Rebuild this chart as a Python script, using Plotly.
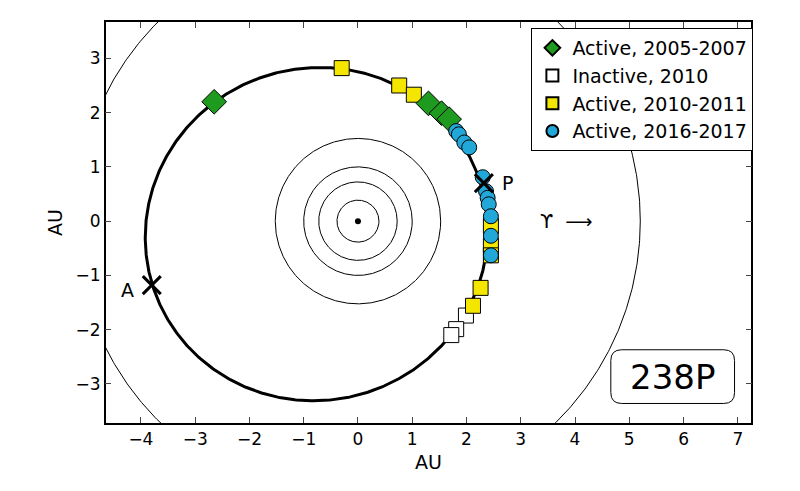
import numpy as np
import plotly.graph_objects as go

planet_radii = [0.387, 0.723, 1.0, 1.524, 5.203]
orbit_a, orbit_e, orbit_peri_deg = 3.165, 0.253, 17.4

green_x = [-2.65, 1.30, 1.54, 1.68]
green_y = [2.20, 2.17, 1.99, 1.88]
white_x = [1.99, 1.81, 1.72]
white_y = [-1.74, -1.99, -2.10]
yellow_x = [-0.30, 0.76, 1.03, 2.45, 2.45, 2.45, 2.26, 2.12]
yellow_y = [2.82, 2.50, 2.33, -0.09, -0.45, -0.63, -1.23, -1.56]
blue_x = [1.81, 1.86, 1.96, 2.05, 2.30, 2.36, 2.39, 2.41, 2.45, 2.45, 2.45]
blue_y = [1.66, 1.60, 1.45, 1.36, 0.81, 0.55, 0.43, 0.31, 0.09, -0.27, -0.63]
peri_xy = (2.32, 0.70)
aph_xy = (-3.80, -1.18)

fig = go.Figure()
t = np.linspace(0, 2*np.pi, 721)
for r in planet_radii:
    fig.add_trace(go.Scatter(x=r*np.cos(t), y=r*np.sin(t), mode="lines",
                             line=dict(color="black", width=1), showlegend=False, hoverinfo="skip"))
w = np.radians(orbit_peri_deg)
rr = orbit_a*(1-orbit_e**2)/(1+orbit_e*np.cos(t-w))
fig.add_trace(go.Scatter(x=rr*np.cos(t), y=rr*np.sin(t), mode="lines",
                         line=dict(color="black", width=3), showlegend=False, hoverinfo="skip"))
fig.add_trace(go.Scatter(x=[0], y=[0], mode="markers", marker=dict(color="black", size=6), showlegend=False))

mk = dict(size=15, line=dict(color="black", width=1))
fig.add_trace(go.Scatter(x=white_x, y=white_y, mode="markers", name="Inactive, 2010", legendrank=2,
                         marker=dict(symbol="square", color="white", **mk)))
fig.add_trace(go.Scatter(x=yellow_x, y=yellow_y, mode="markers", name="Active, 2010-2011", legendrank=3,
                         marker=dict(symbol="square", color="#f5e600", **mk)))
fig.add_trace(go.Scatter(x=green_x, y=green_y, mode="markers", name="Active, 2005-2007", legendrank=1,
                         marker=dict(symbol="diamond", color="#1e9a1e", size=19, line=dict(color="black", width=1))))
fig.add_trace(go.Scatter(x=blue_x, y=blue_y, mode="markers", name="Active, 2016-2017", legendrank=4,
                         marker=dict(symbol="circle", color="#22a7d9", **mk)))
fig.add_trace(go.Scatter(x=[peri_xy[0], aph_xy[0]], y=[peri_xy[1], aph_xy[1]], mode="markers",
                         marker=dict(symbol="x-thin", size=18, line=dict(color="black", width=3)),
                         showlegend=False))

fig.add_annotation(x=peri_xy[0], y=peri_xy[1], text="P", xshift=24, showarrow=False, font=dict(size=19))
fig.add_annotation(x=aph_xy[0], y=aph_xy[1], text="A", xshift=-24, yshift=-5, showarrow=False, font=dict(size=19))
fig.add_annotation(x=3.85, y=0, text="ϒ  ⟶", showarrow=False, font=dict(size=19))
x0, x1, y0, y1, rc = 4.66, 6.94, -3.36, -2.37, 0.2
path = (f"M {x0+rc},{y0} L {x1-rc},{y0} Q {x1},{y0} {x1},{y0+rc} L {x1},{y1-rc} Q {x1},{y1} {x1-rc},{y1} "
        f"L {x0+rc},{y1} Q {x0},{y1} {x0},{y1-rc} L {x0},{y0+rc} Q {x0},{y0} {x0+rc},{y0} Z")
fig.add_shape(type="path", path=path, line=dict(color="black", width=1), fillcolor="white", layer="above")
fig.add_annotation(x=(x0+x1)/2, y=(y0+y1)/2, text="238P", showarrow=False, font=dict(size=34))

ax = dict(showgrid=False, zeroline=False, ticks="inside", mirror="allticks", showline=True,
          linecolor="black", linewidth=1.5, ticklen=6, tickfont=dict(size=17),
          title_font=dict(size=19), automargin=False, constrain="domain")
fig.update_layout(
    width=800, height=491, plot_bgcolor="white", paper_bgcolor="white",
    font=dict(family="DejaVu Sans", color="black"),
    margin=dict(l=91, r=50, t=14, b=76),
    xaxis=dict(range=[-4.65, 7.25], dtick=1, title=dict(text="AU", standoff=8), **ax),
    yaxis=dict(range=[-3.72, 3.67], dtick=1, title=dict(text="AU", standoff=8), scaleanchor="x", scaleratio=1, **ax),
    legend=dict(x=0.993, y=0.985, xanchor="right", yanchor="top", bordercolor="black", borderwidth=1,
                font=dict(size=19), bgcolor="white", tracegroupgap=0, itemsizing="constant"),
)
fig.write_html("out.html")
